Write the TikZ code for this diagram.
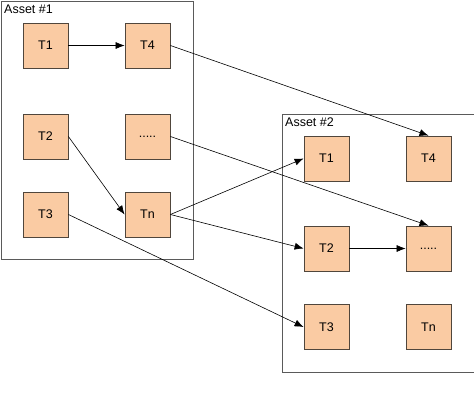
\documentclass[tikz,border=0pt]{standalone}
\usepackage{fontspec}
\setmainfont{Liberation Sans}
\usetikzlibrary{shapes,arrows.meta}
\definecolor{taskfill}{RGB}{250,203,163}
\definecolor{taskline}{RGB}{80,70,60}
\definecolor{assetline}{RGB}{90,90,90}
\begin{document}
\begin{tikzpicture}[x=1pt,y=-1pt,
      every node/.style={font=\fontsize{12.5}{14}\selectfont},
      task/.style={rectangle,draw=taskline,fill=taskfill,line width=0.8pt,minimum size=45pt,inner sep=0pt},
      asset/.style={draw=assetline,line width=1pt},
      link/.style={line width=0.6pt,-{Latex[length=9pt,width=7pt]}}]
    \useasboundingbox (0,0) rectangle (474,400);
    \draw[asset] (1.5,1.5) rectangle (193,259);
    \draw[asset] (475,114) -- (282,114) -- (282,372) -- (475,372);
    \node[anchor=north west,inner sep=0pt] (name1) at (4,5) {Asset \#1};
    \node[anchor=north west,inner sep=0pt] (name2) at (285,118) {Asset \#2};
    \node[task] (a1t1) at (45.5,45.5) {T1};
    \node[task] (a1t4) at (147.5,45.5) {T4};
    \node[task] (a1t2) at (45.5,136.5) {T2};
    \node[task] (a1dots) at (147.5,136.5) {.....};
    \node[task] (a1t3) at (45.5,214.5) {T3};
    \node[task] (a1tn) at (147.5,214.5) {Tn};
    \node[task] (a2t1) at (326.5,158.5) {T1};
    \node[task] (a2t4) at (428.5,158.5) {T4};
    \node[task] (a2t2) at (326.5,248.5) {T2};
    \node[task] (a2dots) at (428.5,248.5) {.....};
    \node[task] (a2t3) at (326.5,327) {T3};
    \node[task] (a2tn) at (428.5,327) {Tn};
    \draw[link] (a1t1) -- (a1t4);
    \draw[link] (a1t2.east) -- (a1tn.west);
    \draw[link] (a1t4.east) -- (a2t4.north);
    \draw[link] (a1dots.east) -- (a2dots.north);
    \draw[link] (a1tn.east) -- (a2t1.west);
    \draw[link] (a1tn.east) -- (a2t2.west);
    \draw[link] (a1t3.east) -- (a2t3.west);
    \draw[link] (a2t2) -- (a2dots);
\end{tikzpicture}
\end{document}
